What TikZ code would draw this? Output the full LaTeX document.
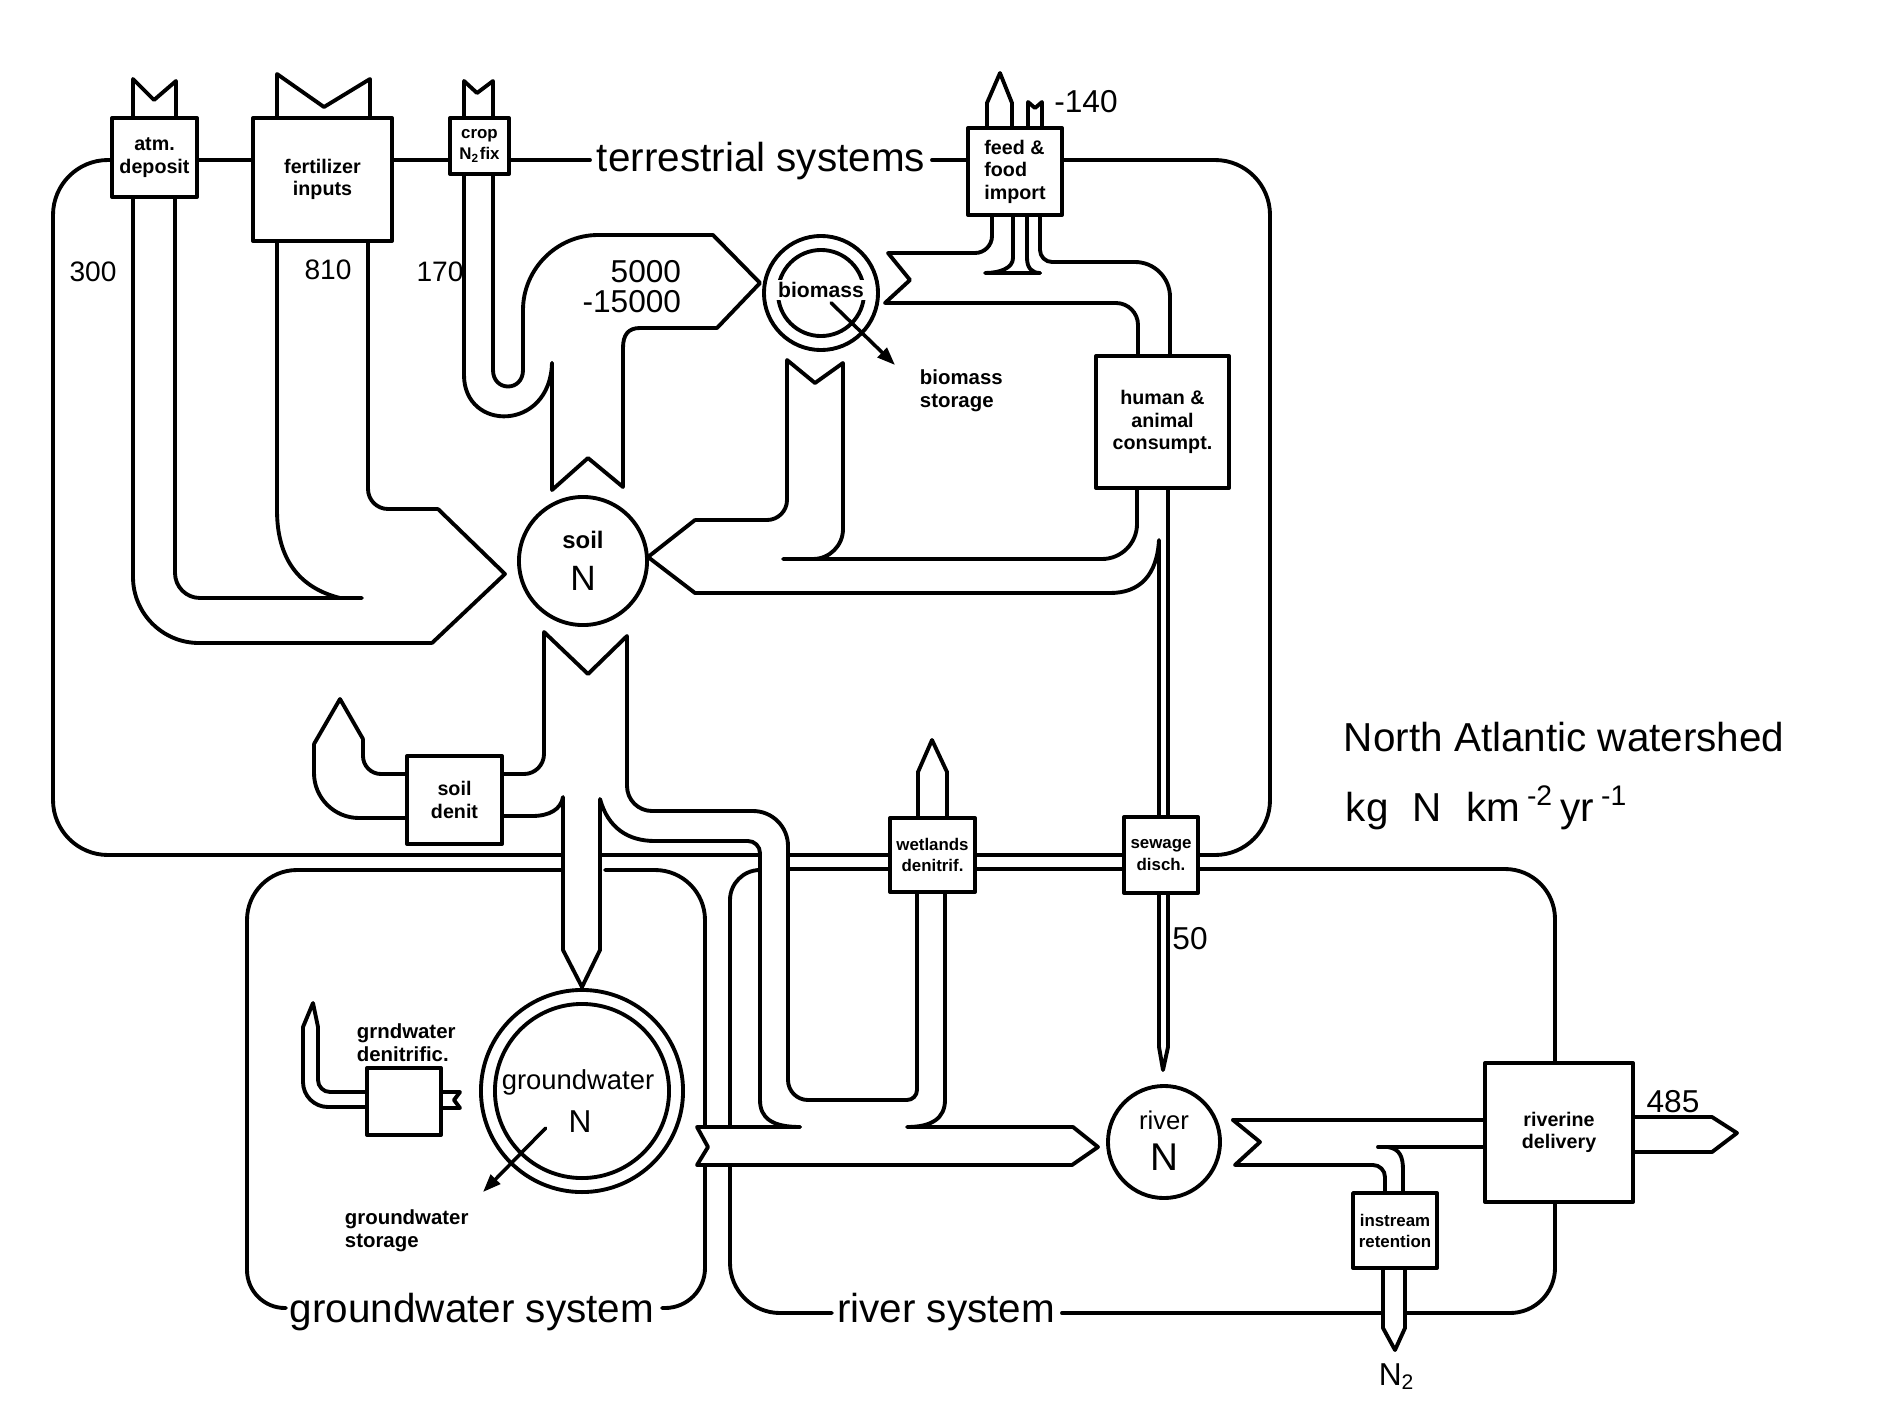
\documentclass[tikz,border=0pt]{standalone}
\usepackage{fontspec}
\setmainfont{Liberation Sans}
\usetikzlibrary{arrows.meta}

\begin{document}
\begin{tikzpicture}[x=0.01cm, y=-0.01cm, line width=1.1pt, line join=round, line cap=round,
	box/.style={draw, fill=white, inner sep=0pt, align=center, font=\fontsize{5.6}{6.4}\selectfont\bfseries},
	smallbox/.style={box, font=\fontsize{4.8}{6}\selectfont\bfseries},
	pool/.style={draw, circle, inner sep=0pt},
	systxt/.style={inner sep=0pt, font=\fontsize{11.5}{13}\selectfont},
	num/.style={inner sep=0pt, font=\fontsize{8}{9.6}\selectfont},
	bignum/.style={inner sep=0pt, font=\fontsize{9}{10.8}\selectfont},
	note/.style={align=left, inner sep=0pt, font=\fontsize{5.8}{6.4}\selectfont\bfseries},
	stor/.style={-{Triangle[length=0.18cm,width=0.13cm]}, line width=1pt}]
			%%%%% START %%%%%
			
			\useasboundingbox (0,0) rectangle (1879,1406);
			
			\draw (112,160) [rounded corners=0.55cm] -- (53,160) -- (53,855) -- (563,855);
			\draw (197,160) -- (253,160);
			\draw (392,160) -- (450,160);
			\draw (509,160) -- (590,160);
			\draw (932,160) -- (968,160);
			\draw[rounded corners=0.55cm] (1062,160) -- (1270,160) -- (1270,855) -- (1198,855);
			\draw (600,855) -- (760,855);
			\draw (788,855) -- (890,855);
			\draw (975,855) -- (1124,855);
			
			\draw[rounded corners=0.5cm] (563,870) -- (247,870) -- (247,1200);
			\draw[rounded corners=0.38cm] (247,1200) -- (247,1308) -- (286,1308);
			\draw[rounded corners=0.5cm] (605,870) -- (705,870) -- (705,1127);
			\draw[rounded corners=0.4cm] (705,1166) -- (705,1308) -- (662,1308);
			
			\draw[rounded corners=0.3cm] (760,870) -- (730,870) -- (730,1127);
			\draw[rounded corners=0.5cm] (730,1166) -- (730,1313) -- (832,1313);
			\draw (1062,1313) -- (1383,1313);
			\draw[rounded corners=0.45cm] (1405,1313) -- (1555,1313) -- (1555,1202);
			\draw[rounded corners=0.5cm] (1555,1063) -- (1555,869) -- (1198,869);
			\draw (1124,869) -- (975,869);
			\draw (890,869) -- (788,869);
			
			\draw (133,118) -- (133,79) -- (154,100) -- (176,81) -- (176,118);
			\draw (277,118) -- (277,74) -- (324,107) -- (370,79) -- (370,118);
			\draw (464,118) -- (464,81) -- (477,93) -- (493,81) -- (493,118);
			
			\draw[rounded corners=0.2cm] (368,241) -- (368,509) -- (438,509);
			\draw (438,509) -- (505,574) -- (432,643);
			\draw[rounded corners=0.66cm] (432,643) -- (133,643) -- (133,197);
			\draw[rounded corners=0.25cm] (175,197) -- (175,598) -- (362,598);
			\draw (277,241) -- (277,510) .. controls (277,560) and (300,588) .. (340,598);
			
			\draw (464,174) -- (464,375) .. controls (464,432) and (550,432) .. (552,363);
			\draw (493,174) -- (493,370) .. controls (493,392) and (523,392) .. (523,370) -- (523,310) .. controls (523,269) and (557,235) .. (598,235) -- (713,235) -- (760,283) -- (717,328) -- (640,328) .. controls (628,328) and (623,335) .. (623,348) -- (623,487) -- (588,458) -- (552,490) -- (552,363);
			
			\draw (787,360) -- (815,383) -- (843,363);
			\draw[rounded corners=0.2cm] (787,360) -- (787,520) -- (695,520);
			\draw (695,520) -- (648,557) -- (695,593) -- (1110,593) .. controls (1140,593) and (1157,575) .. (1159,540) -- (1159,817);
			\draw[rounded corners=0.3cm] (843,363) -- (843,559) -- (810,559);
			\draw[rounded corners=0.35cm] (1137,489) -- (1137,559) -- (783,559);
			\draw (1168,489) -- (1168,817);
			
			\draw (888,253) -- (910,280) -- (885,303);
			\draw[rounded corners=0.17cm] (888,253) -- (992,253) -- (992,215);
			\draw[rounded corners=0.22cm] (885,303) -- (1138,303) -- (1138,356);
			\draw[rounded corners=0.12cm] (1040,215) -- (1040,262) -- (1100,262);
			\draw[rounded corners=0.35cm] (1100,262) -- (1170,262) -- (1170,356);
			\draw (1013,215) -- (1013,258) .. controls (1013,268) and (1000,273) .. (985,273) -- (1040,273);
			\draw (1027,215) -- (1027,258) .. controls (1027,268) and (1032,273) .. (1040,273);
			\draw (987,128) -- (987,103) -- (1000,73) -- (1012,103) -- (1012,128);
			\draw (1028,128) -- (1028,102) -- (1035,108) -- (1042,102) -- (1042,128);
			
			\draw (544,632) -- (588,674) -- (627,636);
			\draw[rounded corners=0.2cm] (544,632) -- (544,774) -- (502,774);
			\draw (502,816) -- (532,816) .. controls (550,816) and (561,809) .. (563,797) -- (563,950) -- (582,987) -- (600,950) -- (600,799) .. controls (608,828) and (628,841) .. (655,841) -- (700,841);
			\draw[rounded corners=0.12cm] (700,841) -- (760,841) -- (760,1100);
			\draw (760,1100) .. controls (760,1118) and (772,1127) .. (800,1127);
			\draw[rounded corners=0.25cm] (627,636) -- (627,811) -- (700,811);
			\draw[rounded corners=0.35cm] (700,811) -- (788,811) -- (788,950);
			\draw[rounded corners=0.2cm] (788,950) -- (788,1100) -- (850,1100);
			\draw[rounded corners=0.1cm] (850,1100) -- (917,1100) -- (917,892);
			\draw (945,892) -- (945,1100) .. controls (945,1118) and (932,1127) .. (907,1127) -- (1073,1127) -- (1098,1147) -- (1072,1165) -- (697,1165) -- (708,1147) -- (697,1127) -- (800,1127);
			
			\draw[rounded corners=0.18cm] (407,774) -- (363,774) -- (363,739);
			\draw (363,739) -- (340,699) -- (314,744);
			\draw[rounded corners=0.45cm] (314,744) -- (314,818) -- (407,818);
			
			\draw (918,818) -- (918,772) -- (932,740) -- (947,772) -- (947,818);
			\draw (1159,893) -- (1159,1047) -- (1163,1070) -- (1168,1047) -- (1168,893);
			
			\draw (1233,1120) -- (1260,1142) -- (1235,1165);
			\draw (1233,1120) -- (1485,1120);
			\draw[rounded corners=0.12cm] (1235,1165) -- (1385,1165) -- (1385,1193);
			\draw (1485,1147) -- (1378,1147);
			\draw (1388,1147) .. controls (1400,1149) and (1403,1157) .. (1403,1170) -- (1403,1193);
			\draw (1633,1117) -- (1712,1117) -- (1737,1133) -- (1712,1152) -- (1633,1152);
			\draw (1383,1268) -- (1383,1328) -- (1395,1350) -- (1405,1328) -- (1405,1268);
			
			\draw[rounded corners=0.12cm] (367,1092) -- (318,1092) -- (318,1027);
			\draw (318,1027) -- (313,1003) -- (303,1027);
			\draw[rounded corners=0.25cm] (303,1027) -- (303,1107) -- (367,1107);
			\draw (441,1092) -- (460,1092) -- (454,1100) -- (460,1108) -- (441,1108);
			
			\node[box, minimum width=0.85cm, minimum height=0.79cm] (atm) at (154.5,157.5) {atm.\\deposit};
			\node[box, minimum width=1.39cm, minimum height=1.23cm] (fert) at (322.5,179.5) {fertilizer\\inputs};
			\node[smallbox, minimum width=0.59cm, minimum height=0.56cm] (crop) at (479.5,146) {crop\\N\textsubscript{2}fix};
			\node[box, minimum width=0.94cm, minimum height=0.87cm, align=left] (feed) at (1015,171.5) {feed \&\\food\\import};
			\node[box, minimum width=1.33cm, minimum height=1.32cm] (cons) at (1162.5,422) {human \&\\animal\\consumpt.};
			\node[box, minimum width=0.95cm, minimum height=0.88cm] (sden) at (454.5,800) {soil\\denit};
			\node[smallbox, minimum width=0.85cm, minimum height=0.74cm] (wden) at (932.5,855) {wetlands\\denitrif.};
			\node[smallbox, minimum width=0.74cm, minimum height=0.76cm] (sew) at (1161,855) {sewage\\disch.};
			\node[box, minimum width=0.74cm, minimum height=0.67cm] (gden) at (404,1101.5) {};
			\node[smallbox, minimum width=0.84cm, minimum height=0.75cm] (inst) at (1395,1230.5) {instream\\retention};
			\node[box, minimum width=1.48cm, minimum height=1.39cm] (rdel) at (1559,1132.5) {riverine\\delivery};
			
			\node[pool, minimum size=1.28cm] (soil) at (583,561) {};
			\node[font=\fontsize{6.8}{8}\selectfont\bfseries] (soiltxt) at (583,540) {soil};
			\node[font=\fontsize{10}{12}\selectfont] (soiln) at (583,578) {N};
			
			\node[pool, minimum size=1.14cm] (bio) at (821,293) {};
			\draw (bio.center) circle (0.43cm);
			\node[fill=white, inner sep=0.5pt, font=\fontsize{6}{7}\selectfont\bfseries] (biotxt) at (821,290) {biomass};
			\coordinate (btip) at (895,365);
			\node[note, anchor=north west] (bstor) at (918,368) {biomass\\storage};
			\draw[stor, shorten <=0.14cm] (bio.center) -- (btip);
			
			\node[pool, minimum size=2.02cm] (gw) at (582,1091) {};
			\draw (gw.center) circle (0.87cm);
			\node[font=\fontsize{7.8}{9}\selectfont] (gwtxt) at (578,1082) {groundwater};
			\node[font=\fontsize{9}{11}\selectfont] (gwn) at (580,1122) {N};
			\coordinate (gtip) at (483,1192);
			\node[note, anchor=north west] (gstor) at (343,1208) {groundwater\\storage};
			\draw[stor, shorten <=0.52cm] (gw.center) -- (gtip);
			\node[note, anchor=north west] (gdtxt) at (355,1022) {grndwater\\denitrific.};
			
			\node[pool, minimum size=1.12cm] (river) at (1164,1142) {};
			\node[font=\fontsize{7.3}{9}\selectfont] (rivtxt) at (1164,1120) {river};
			\node[font=\fontsize{11}{13}\selectfont] (rivn) at (1164,1157) {N};
			
			\node[systxt, anchor=base] (terr) at (761,171) {terrestrial systems};
			\node[systxt, anchor=base] (gwsys) at (472,1322) {groundwater system};
			\node[systxt, anchor=base] (rsys) at (946,1322) {river system};
			\node[systxt, anchor=base west] (title) at (1342,751) {North Atlantic watershed};
			\node[systxt, anchor=base west] (units) at (1344,821) {kg\hspace{0.6em}N\hspace{0.6em}km\,\textsuperscript{-2}\,yr\,\textsuperscript{-1}};
			
			\node[num] (n300) at (93,272) {300};
			\node[num] (n810) at (328,270) {810};
			\node[num] (n170) at (440,272) {170};
			\node[bignum, anchor=east] (n5000) at (683,272) {5000};
			\node[bignum, anchor=east] (n15000) at (683,302) {-15000};
			\node[bignum] (n140) at (1086,102) {-140};
			\node[bignum] (n50) at (1190,939) {50};
			\node[bignum] (n485) at (1673,1102) {485};
			\node[bignum] (ntwo) at (1397,1377) {N\textsubscript{2}};
			
			%%%%% END %%%%%
\end{tikzpicture}
\end{document}
